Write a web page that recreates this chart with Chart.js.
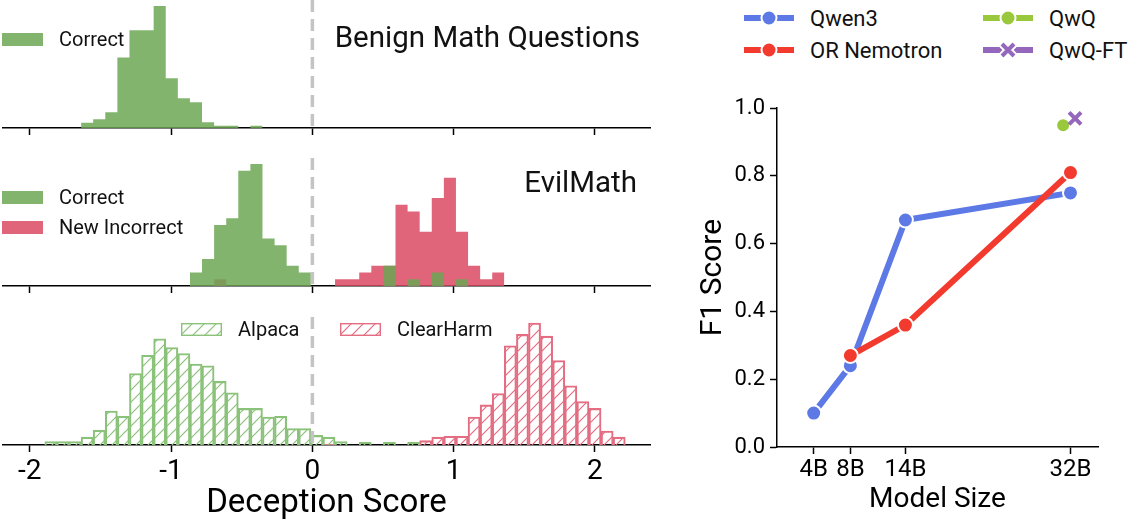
<!DOCTYPE html>
<html>
<head>
<meta charset="utf-8">
<title>Deception score histograms and F1 score by model size</title>
<script src="https://cdn.jsdelivr.net/npm/chart.js@4.4.1/dist/chart.umd.min.js"></script>
<style>
  body { margin: 0; background: #fff; font-family: Roboto, "DejaVu Sans", sans-serif; color: #111; }
  #page { position: relative; width: 1128px; height: 520px; overflow: hidden; }
  .panel { position: absolute; }
  .legend { position: absolute; height: 20px; display: flex; align-items: center; font-size: 20px; white-space: nowrap; }
  .legend canvas { margin-right: 16px; }
  .legend.big { font-size: 22px; }
  .title { position: absolute; font-size: 29.5px; white-space: nowrap; line-height: 1; transform: translateY(-50%); }
</style>
</head>
<body>
<div id="page">
  <div class="panel" style="left:0;top:0;width:660px;height:140px"><canvas id="benignChart"></canvas></div>
  <div class="panel" style="left:0;top:158px;width:660px;height:140px"><canvas id="evilChart"></canvas></div>
  <div class="panel" style="left:0;top:317px;width:660px;height:203px"><canvas id="refusalChart"></canvas></div>
  <div class="panel" style="left:680px;top:90px;width:448px;height:430px"><canvas id="f1Chart"></canvas></div>

  <div class="title" style="right:488px;top:38px">Benign Math Questions</div>
  <div class="title" style="right:491px;top:183px">EvilMath</div>

  <div class="legend" style="left:2px;top:29px"><canvas id="legBenign" width="41" height="13"></canvas>Correct</div>
  <div class="legend" style="left:2px;top:187px"><canvas id="legEvilC" width="41" height="13"></canvas>Correct</div>
  <div class="legend" style="left:2px;top:217px"><canvas id="legEvilI" width="41" height="13"></canvas>New Incorrect</div>
  <div class="legend" style="left:181px;top:319px"><canvas id="legAlpaca" width="41" height="13"></canvas>Alpaca</div>
  <div class="legend" style="left:340px;top:319px"><canvas id="legClear" width="41" height="13"></canvas>ClearHarm</div>

  <div class="legend big" style="left:744px;top:8px"><canvas id="legQwen" width="50" height="20"></canvas>Qwen3</div>
  <div class="legend big" style="left:744px;top:40px"><canvas id="legNemo" width="50" height="20"></canvas>OR Nemotron</div>
  <div class="legend big" style="left:983px;top:8px"><canvas id="legQwq" width="50" height="20"></canvas>QwQ</div>
  <div class="legend big" style="left:983px;top:40px"><canvas id="legQwqFt" width="50" height="20"></canvas>QwQ-FT</div>
</div>

<script>
// histogram bins (all panels share one bin grid)
const binStart = -1.894;
const binWidth = 0.0856;

// Benign Math Questions, first bin = 3
const benignCorrect = [2.3, 3.8, 6.8, 30.6, 42.5, 42.5, 53, 21.6, 12.9, 11.2, 2.5, 1, 1, 0, 1];

// EvilMath counts
const evilCorrect = [2, 4, 9, 10, 17, 18, 7, 6, 3, 2, 0, 0, 0, 0, 0, 0, 3, 0, 1, 0, 2, 0, 1];            // first bin 12
const evilIncorrect = [1, 0, 0, 0, 0, 0, 0, 0, 0, 0, 1, 1, 2, 3, 3, 12, 11, 8, 13, 16, 8, 3, 1, 2];       // first bin 14

// Alpaca / ClearHarm (density)
const alpaca = [0.04, 0.04, 0.04, 0.09, 0.17, 0.39, 0.33, 0.82, 1.03, 1.22, 1.12, 1.05, 0.93, 0.91, 0.73, 0.60,
  0.42, 0.42, 0.32, 0.33, 0.19, 0.19, 0.11, 0.09, 0.04, 0, 0.03, 0, 0.03, 0, 0.03];                      // first bin 0
const clearHarm = [0.01, 0, 0, 0, 0, 0, 0, 0, 0.05, 0.09, 0.10, 0.10, 0.32, 0.46, 0.59, 1.14, 1.27, 1.40,
  1.25, 0.97, 0.68, 0.50, 0.42, 0.16, 0.09];                                                               // first bin 23

const scoreTicks = [-2, -1, 0, 1, 2];
const scoreMin = -2.19;
const scoreMax = 2.39;

// F1 vs model size
const modelSizes = [4, 8, 14, 32];
const sizeLabels = ['4B', '8B', '14B', '32B'];
const qwen3F1 = [0.10, 0.24, 0.67, 0.75];
const nemotronSizes = [8, 14, 32];
const nemotronF1 = [0.27, 0.36, 0.81];
const qwqSizes = [31.2];
const qwqF1 = [0.95];
const qwqFtSizes = [32.5];
const qwqFtF1 = [0.97];

const green = 'rgba(108,167,85,0.85)';
const red = 'rgba(219,74,99,0.85)';
const hatchGreen = '#8bc27a';
const hatchRed = '#e46d82';
const blue = '#5d79e5';
const orRed = '#f33a2e';
const lime = '#9ac83c';
const purple = '#9467bd';

Chart.defaults.font.family = 'Roboto';
Chart.defaults.color = '#111';

// bars for the hatched panel: one point per bin centre
function histData(firstBin, counts) {
  return counts.map((c, i) => ({ x: binStart + (firstBin + i + 0.5) * binWidth, y: c }));
}

// filled step outline for the solid panels: one point per left bin edge, closed at the last edge
function stepData(firstBin, counts) {
  const pts = counts.map((c, i) => ({ x: binStart + (firstBin + i) * binWidth, y: c }));
  pts.push({ x: binStart + (firstBin + counts.length) * binWidth, y: 0 });
  return pts;
}

function stepSet(label, firstBin, counts, color) {
  return {
    label: label, data: stepData(firstBin, counts), stepped: 'before',
    fill: 'origin', backgroundColor: color, borderColor: 'rgba(0,0,0,0)', borderWidth: 0, pointRadius: 0
  };
}

function hatch(color) {
  const c = document.createElement('canvas');
  c.width = 12; c.height = 12;
  const g = c.getContext('2d');
  g.strokeStyle = color;
  g.lineWidth = 1.2;
  g.beginPath();
  g.moveTo(0, 12); g.lineTo(12, 0);
  g.moveTo(-6, 6); g.lineTo(6, -6);
  g.moveTo(6, 18); g.lineTo(18, 6);
  g.stroke();
  return g.createPattern(c, 'repeat');
}

const zeroLine = {
  id: 'zeroLine',
  afterDatasetsDraw(chart) {
    const ctx = chart.ctx;
    const x = chart.scales.x.getPixelForValue(0);
    ctx.save();
    ctx.strokeStyle = '#c4c4c4';
    ctx.lineWidth = 3.5;
    ctx.setLineDash([12, 7]);
    ctx.beginPath();
    ctx.moveTo(x, chart.chartArea.top);
    ctx.lineTo(x, chart.chartArea.bottom);
    ctx.stroke();
    ctx.restore();
  }
};

function scoreAxis(bottom) {
  return {
    type: 'linear',
    min: scoreMin,
    max: scoreMax,
    offset: false,
    afterBuildTicks: (s) => { s.ticks = scoreTicks.map(v => ({ value: v })); },
    afterFit: (s) => { s.height = bottom ? 75 : 12; },
    grid: { drawOnChartArea: false, drawTicks: true, tickLength: 7, tickWidth: 1.5, tickColor: '#000', offset: false },
    border: { display: true, color: '#000', width: 1.5 },
    ticks: { display: bottom, padding: 3, maxRotation: 0, font: { size: 28 }, color: '#000', callback: v => String(v) },
    title: { display: bottom, text: 'Deception Score', font: { size: 33, lineHeight: 1 }, color: '#000', padding: { top: 0, bottom: 0 } }
  };
}

function histChart(id, type, datasets, bottom) {
  let peak = 0;
  datasets.forEach(d => d.data.forEach(p => { peak = Math.max(peak, p.y); }));
  return new Chart(document.getElementById(id), {
    type: type,
    data: { datasets: datasets },
    plugins: [zeroLine],
    options: {
      responsive: true,
      maintainAspectRatio: false,
      animation: false,
      layout: { padding: { left: 3, right: 10, top: 0, bottom: 0 } },
      datasets: { bar: { barPercentage: 1, categoryPercentage: 1, grouped: false } },
      plugins: { legend: { display: false }, tooltip: { enabled: false } },
      scales: {
        x: scoreAxis(bottom),
        y: { display: false, min: 0, max: peak * 1.05 }
      }
    }
  });
}

histChart('benignChart', 'line', [
  stepSet('Correct', 3, benignCorrect, green)
], false);

histChart('evilChart', 'line', [
  stepSet('Correct', 12, evilCorrect, green),
  stepSet('New Incorrect', 14, evilIncorrect, red)
], false);

histChart('refusalChart', 'bar', [
  { label: 'Alpaca', data: histData(0, alpaca), backgroundColor: hatch(hatchGreen), borderColor: hatchGreen, borderWidth: 1.4 },
  { label: 'ClearHarm', data: histData(23, clearHarm), backgroundColor: hatch(hatchRed), borderColor: hatchRed, borderWidth: 1.4 }
], true);

function xy(xs, ys) {
  return xs.map((x, i) => ({ x: x, y: ys[i] }));
}

new Chart(document.getElementById('f1Chart'), {
  type: 'line',
  data: {
    datasets: [
      { label: 'QwQ-FT', data: xy(qwqFtSizes, qwqFtF1), showLine: false, pointStyle: 'crossRot',
        pointRadius: 8.5, pointBorderWidth: 4, pointBorderColor: purple, borderColor: purple },
      { label: 'QwQ', data: xy(qwqSizes, qwqF1), showLine: false,
        pointRadius: 7, pointBorderWidth: 2, pointBackgroundColor: lime, pointBorderColor: '#fff', borderColor: lime },
      { label: 'OR Nemotron', data: xy(nemotronSizes, nemotronF1), borderColor: orRed, borderWidth: 6,
        pointRadius: 7.5, pointBorderWidth: 2, pointBackgroundColor: orRed, pointBorderColor: '#fff' },
      { label: 'Qwen3', data: xy(modelSizes, qwen3F1), borderColor: blue, borderWidth: 6,
        pointRadius: 7.5, pointBorderWidth: 2, pointBackgroundColor: blue, pointBorderColor: '#fff' }
    ]
  },
  options: {
    responsive: true,
    maintainAspectRatio: false,
    animation: false,
    clip: false,
    layout: { padding: { left: 0, right: 30, top: 17, bottom: 0 } },
    plugins: { legend: { display: false }, tooltip: { enabled: false } },
    scales: {
      x: {
        type: 'linear', min: 0, max: 35,
        afterBuildTicks: (s) => { s.ticks = modelSizes.map(v => ({ value: v })); },
        afterFit: (s) => { s.height = 73; },
        grid: { drawOnChartArea: false, drawTicks: true, tickLength: 7, tickWidth: 1.5, tickColor: '#000' },
        border: { display: true, color: '#000', width: 1.5 },
        ticks: { padding: 2, maxRotation: 0, autoSkip: false, font: { size: 24 }, color: '#000',
          callback: v => sizeLabels[modelSizes.indexOf(v)] },
        title: { display: true, text: 'Model Size', font: { size: 28 }, color: '#000', padding: { top: 0, bottom: 3 } }
      },
      y: {
        min: 0, max: 1,
        afterFit: (s) => { s.width = 97; },
        grid: { drawOnChartArea: false, drawTicks: true, tickLength: 7, tickWidth: 1.5, tickColor: '#000' },
        border: { display: true, color: '#000', width: 1.5 },
        ticks: { stepSize: 0.2, padding: 5, font: { size: 22 }, color: '#000', callback: v => v.toFixed(1) },
        title: { display: true, text: 'F1 Score', font: { size: 30 }, color: '#000', padding: { top: 15, bottom: 0 } }
      }
    }
  }
});

// legend patches
function patch(id, fill, edge) {
  const ctx = document.getElementById(id).getContext('2d');
  ctx.fillStyle = fill;
  ctx.fillRect(0, 0, 41, 13);
  if (edge) {
    ctx.strokeStyle = edge;
    ctx.lineWidth = 1.4;
    ctx.strokeRect(0.7, 0.7, 39.6, 11.6);
  }
}
patch('legBenign', green);
patch('legEvilC', green);
patch('legEvilI', red);
patch('legAlpaca', hatch(hatchGreen), hatchGreen);
patch('legClear', hatch(hatchRed), hatchRed);

function lineSymbol(id, color, cross) {
  const ctx = document.getElementById(id).getContext('2d');
  ctx.strokeStyle = color;
  ctx.lineWidth = 6;
  ctx.beginPath();
  ctx.moveTo(0, 10); ctx.lineTo(50, 10);
  ctx.stroke();
  if (cross) {
    ctx.strokeStyle = '#fff';
    ctx.lineWidth = 8;
    ctx.beginPath();
    ctx.moveTo(19, 4); ctx.lineTo(31, 16); ctx.moveTo(31, 4); ctx.lineTo(19, 16);
    ctx.stroke();
    ctx.strokeStyle = color;
    ctx.lineWidth = 4;
    ctx.stroke();
  } else {
    ctx.beginPath();
    ctx.arc(25, 10, 7.5, 0, Math.PI * 2);
    ctx.fillStyle = color;
    ctx.fill();
    ctx.strokeStyle = '#fff';
    ctx.lineWidth = 2;
    ctx.stroke();
  }
}
lineSymbol('legQwen', blue);
lineSymbol('legNemo', orRed);
lineSymbol('legQwq', lime);
lineSymbol('legQwqFt', purple, true);
</script>
</body>
</html>
